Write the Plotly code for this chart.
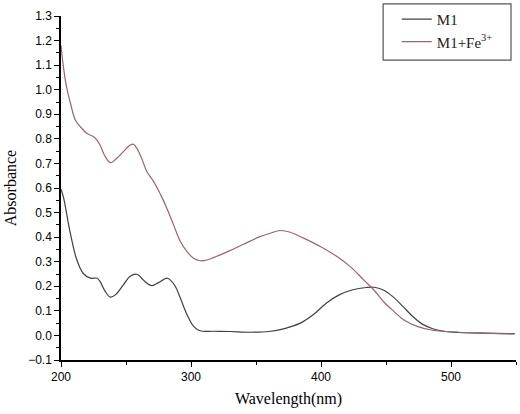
import plotly.graph_objects as go

# wavelength (nm) and absorbance
m1_nm = [200, 202, 207, 212, 217, 222.6, 227.7, 230, 234, 238, 241.8, 248, 253, 258.5,
         262, 266, 270, 275, 281.5, 284, 288, 291.8, 297, 302, 307, 317, 330, 345,
         360, 372, 384, 394, 404, 414, 424.5, 434.8, 441, 447.5, 455, 463, 470.6,
         478, 486, 496, 506, 524, 549]
m1_abs = [0.595, 0.56, 0.42, 0.31, 0.253, 0.233, 0.233, 0.22, 0.179, 0.156, 0.165, 0.206,
          0.24, 0.249, 0.233, 0.213, 0.203, 0.215, 0.233, 0.226, 0.199, 0.152, 0.084,
          0.037, 0.019, 0.017, 0.016, 0.013, 0.016, 0.028, 0.05, 0.084, 0.131, 0.165,
          0.186, 0.195, 0.196, 0.186, 0.159, 0.118, 0.077, 0.046, 0.027, 0.016, 0.012,
          0.009, 0.007]

fe_nm = [200, 202, 204.5, 207, 211, 214.8, 220, 225, 227.7, 230, 234, 238, 243, 248,
         253.3, 255.8, 258.4, 262, 266, 271.3, 276.4, 281.5, 286.6, 291.8, 296.9, 302,
         307, 312.3, 322.5, 330, 340, 353, 361, 368.7, 376.4, 386.6, 399.5, 412.3,
         422.5, 432.8, 440.5, 448, 456, 463.5, 474, 486.7, 499.5, 520, 549]
fe_abs = [1.18, 1.087, 1.005, 0.951, 0.877, 0.85, 0.822, 0.809, 0.795, 0.775, 0.728,
          0.703, 0.721, 0.748, 0.775, 0.778, 0.761, 0.721, 0.667, 0.626, 0.575, 0.517,
          0.45, 0.382, 0.341, 0.314, 0.304, 0.307, 0.328, 0.345, 0.37, 0.402, 0.416,
          0.427, 0.42, 0.396, 0.362, 0.321, 0.28, 0.226, 0.186, 0.138, 0.098, 0.064,
          0.037, 0.02, 0.015, 0.01, 0.006]

fig = go.Figure()
fig.add_trace(go.Scatter(x=m1_nm, y=m1_abs, mode="lines", name="M1", legendgroup="a",
                         line=dict(color="#404040", width=1.2, shape="spline")))
fig.add_trace(go.Scatter(x=fe_nm, y=fe_abs, mode="lines", name="M1+Fe<sup>3+</sup>",
                         legendgroup="b",
                         line=dict(color="#96676b", width=1.2, shape="spline")))

# legend frame
fig.add_shape(type="rect", xref="paper", yref="paper", x0=0.708, x1=0.989,
              y0=0.872, y1=1.035, line=dict(color="#555555", width=1.2),
              fillcolor="rgba(0,0,0,0)")

fig.update_layout(
    width=520, height=414,
    margin=dict(l=61, r=4, t=15, b=54),
    paper_bgcolor="white", plot_bgcolor="white",
    showlegend=True,
    legend=dict(x=0.738, y=1.035, xanchor="left", yanchor="top",
                borderwidth=0, bgcolor="rgba(0,0,0,0)",
                font=dict(family="Liberation Serif", size=15, color="#222222"),
                itemwidth=30, traceorder="grouped", tracegroupgap=0),
)
fig.update_xaxes(
    range=[200, 550], tickvals=[200, 300, 400, 500],
    showline=True, linecolor="black", linewidth=1.5,
    ticks="outside", ticklen=5, tickwidth=1.2, tickcolor="black",
    minor=dict(tickvals=[250, 350, 450, 550], ticks="outside", ticklen=3,
               tickcolor="black", tickwidth=1.2),
    showgrid=False, zeroline=False,
    tickfont=dict(family="Liberation Sans", size=12, color="black"),
    title=dict(text="Wavelength(nm)", standoff=10,
               font=dict(family="Liberation Serif", size=16, color="black")),
)
fig.update_yaxes(
    range=[-0.1, 1.3], dtick=0.1, tickformat=".1f",
    showline=True, linecolor="black", linewidth=1.5,
    ticks="outside", ticklen=5, tickwidth=1.2, tickcolor="black",
    minor=dict(dtick=0.05, ticks="outside", ticklen=3, tickcolor="black", tickwidth=1.2),
    showgrid=False, zeroline=False,
    tickfont=dict(family="Liberation Sans", size=12, color="black"),
    title=dict(text="Absorbance", standoff=8,
               font=dict(family="Liberation Serif", size=16, color="black")),
)

fig.write_html("out.html", config={"displayModeBar": False},
               post_script="document.body.style.margin='0px';")
